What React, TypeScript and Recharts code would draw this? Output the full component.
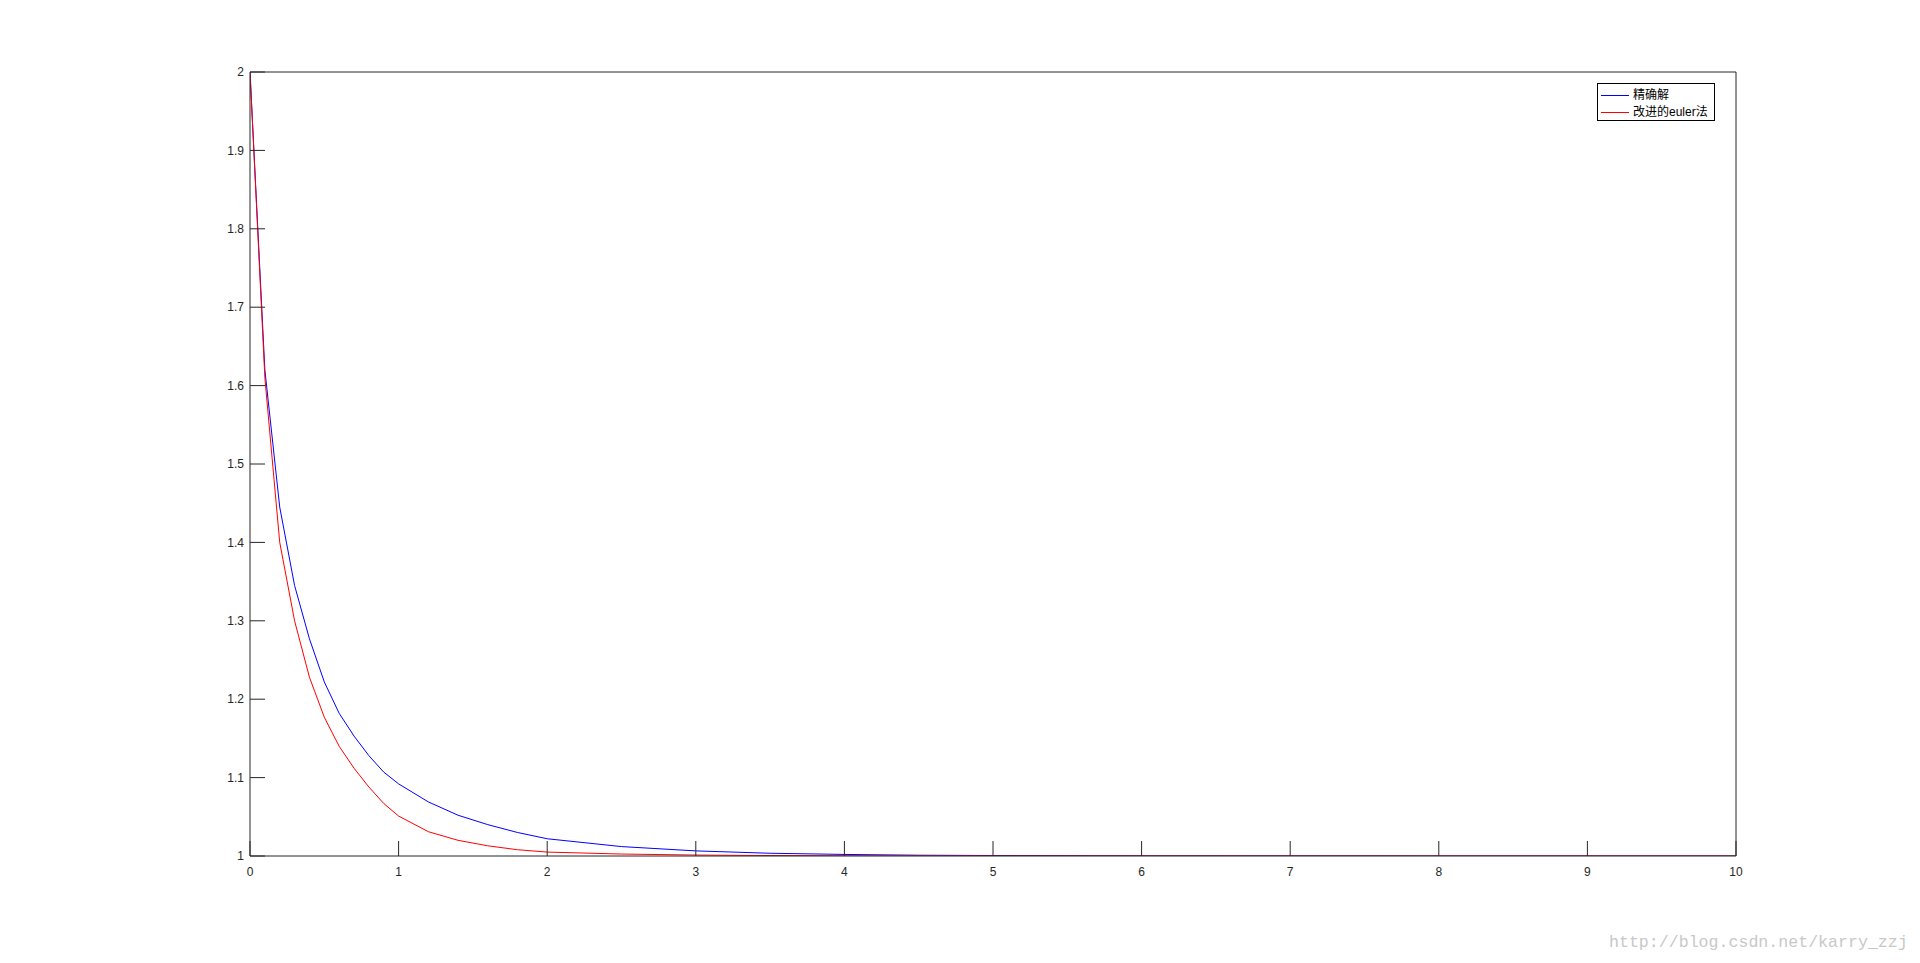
import React from 'react';
import { LineChart, Line, XAxis, YAxis, Legend } from 'recharts';

// ---- data ----
const xValues = [0, 0.1, 0.2, 0.3, 0.4, 0.5, 0.6, 0.7, 0.8, 0.9, 1.0, 1.2, 1.4, 1.6, 1.8, 2.0, 2.5, 3.0, 3.5, 4.0, 4.5, 5, 6, 7, 8, 9, 10];
const exactValues = [2.0, 1.62, 1.445, 1.345, 1.277, 1.222, 1.182, 1.153, 1.128, 1.107, 1.092, 1.069, 1.052, 1.04, 1.03, 1.022, 1.012, 1.0065, 1.0035, 1.002, 1.001, 1.0006, 1.0002, 1.0001, 1.0, 1.0, 1.0];
const eulerValues = [2.0, 1.61, 1.4, 1.3, 1.228, 1.177, 1.14, 1.112, 1.088, 1.067, 1.051, 1.031, 1.02, 1.013, 1.008, 1.005, 1.0025, 1.0012, 1.0006, 1.0003, 1.0001, 1.0, 1.0, 1.0, 1.0, 1.0, 1.0];
const xTicks = [0, 1, 2, 3, 4, 5, 6, 7, 8, 9, 10];
const yTicks = [1, 1.1, 1.2, 1.3, 1.4, 1.5, 1.6, 1.7, 1.8, 1.9, 2];
const seriesNames = ['精确解', '改进的euler法'];
const watermark = 'http://blog.csdn.net/karry_zzj';

const data = xValues.map((x, i) => ({ x, exact: exactValues[i], euler: eulerValues[i] }));

const AXIS = '#262626';
const FONT = '"Liberation Sans", Arial, "Noto Sans CJK SC", sans-serif';

const renderLegend = (props: any) => {
  const payload = [...(props.payload || [])].sort(
    (a: any, b: any) => seriesNames.indexOf(a.value) - seriesNames.indexOf(b.value)
  );
  return (
    <div
      style={{
        border: '1px solid #000',
        background: '#fff',
        boxSizing: 'border-box',
        width: 118,
        height: 38,
        paddingTop: 2.5,
        fontFamily: FONT,
      }}
    >
      {payload.map((entry: any) => (
        <div key={entry.value} style={{ display: 'flex', alignItems: 'center', height: 17 }}>
          <span
            style={{
              display: 'inline-block',
              width: 28,
              height: 0,
              borderTop: `1px solid ${entry.color}`,
              marginLeft: 3,
              marginRight: 4,
            }}
          />
          <span style={{ fontSize: 12, color: '#000', lineHeight: '17px', whiteSpace: 'nowrap' }}>{entry.value}</span>
        </div>
      ))}
    </div>
  );
};

export default function App() {
  return (
    <div style={{ position: 'absolute', left: 0, top: 0, width: 1920, height: 963, background: '#fff', overflow: 'hidden' }}>
      <LineChart
        width={1920}
        height={963}
        data={data}
        margin={{ top: 71, right: 183, bottom: 106, left: 249 }}
        style={{ fontFamily: FONT }}
      >
        <XAxis
          xAxisId="bottom"
          dataKey="x"
          type="number"
          domain={[0, 10]}
          ticks={xTicks}
          height={1}
          interval={0}
          tickSize={-15}
          tickMargin={26}
          stroke={AXIS}
          tickLine={{ stroke: AXIS }}
          axisLine={{ stroke: AXIS }}
          tick={{ fill: AXIS, fontSize: 12 }}
          allowDataOverflow
        />
        <XAxis
          xAxisId="top"
          orientation="top"
          dataKey="x"
          type="number"
          domain={[0, 10]}
          ticks={xTicks}
          height={1}
          interval={0}
          tickSize={-15}
          stroke={AXIS}
          tickLine={{ stroke: AXIS }}
          axisLine={{ stroke: AXIS }}
          tick={false}
          allowDataOverflow
        />
        <YAxis
          yAxisId="left"
          type="number"
          domain={[1, 2]}
          ticks={yTicks}
          width={1}
          interval={0}
          tickSize={-15}
          tickMargin={21}
          stroke={AXIS}
          tickLine={{ stroke: AXIS }}
          axisLine={{ stroke: AXIS }}
          tick={{ fill: AXIS, fontSize: 12 }}
          allowDataOverflow
        />
        <YAxis
          yAxisId="right"
          orientation="right"
          type="number"
          domain={[1, 2]}
          ticks={yTicks}
          width={1}
          interval={0}
          tickSize={-15}
          stroke={AXIS}
          tickLine={{ stroke: AXIS }}
          axisLine={{ stroke: AXIS }}
          tick={false}
          allowDataOverflow
        />
        <Line
          xAxisId="bottom"
          yAxisId="left"
          type="linear"
          dataKey="exact"
          name={seriesNames[0]}
          stroke="#0000ff"
          strokeWidth={1}
          dot={false}
          activeDot={false}
          isAnimationActive={false}
        />
        <Line
          xAxisId="bottom"
          yAxisId="left"
          type="linear"
          dataKey="euler"
          name={seriesNames[1]}
          stroke="#ff0000"
          strokeWidth={1}
          dot={false}
          activeDot={false}
          isAnimationActive={false}
        />
        <Legend
          layout="vertical"
          align="center"
          verticalAlign="middle"
          content={renderLegend}
          wrapperStyle={{ left: 1597, top: 83, width: 118, height: 'auto' }}
        />
      </LineChart>
      <div
        style={{
          position: 'absolute',
          left: 1609,
          top: 933,
          lineHeight: '20px',
          fontSize: 16.6,
          fontFamily: '"Liberation Mono", "DejaVu Sans Mono", monospace',
          color: '#c8c8c8',
          whiteSpace: 'nowrap',
        }}
      >
        {watermark}
      </div>
    </div>
  );
}
